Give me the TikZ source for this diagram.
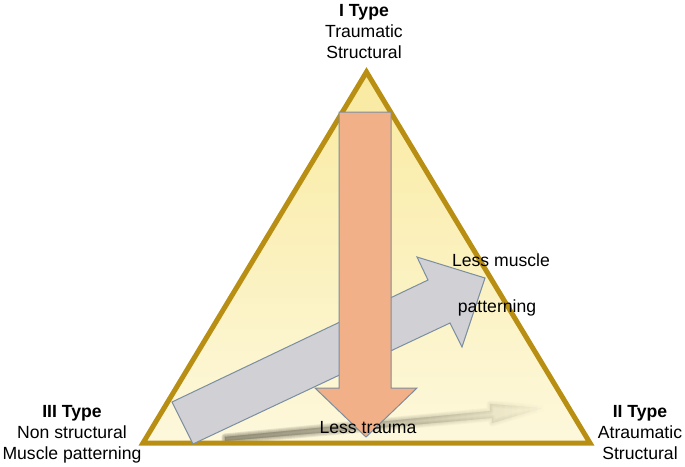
\documentclass[tikz,border=0pt]{standalone}
\usepackage{fontspec}
\setmainfont{Liberation Sans}
\usetikzlibrary{fadings}
\definecolor{goldline}{RGB}{184,143,18}
\definecolor{yellowtop}{RGB}{249,234,160}
\definecolor{yellowbot}{RGB}{253,248,220}
\definecolor{traumafill}{RGB}{242,176,136}
\definecolor{musclefill}{RGB}{208,208,213}
\definecolor{arrowline}{RGB}{122,142,160}
\definecolor{shadowgray}{RGB}{120,115,95}
\tikzset{
  label/.style={font=\fontsize{17.6}{21}\selectfont, inner sep=0pt, anchor=base},
  typelabel/.style={label, font=\fontsize{17.6}{21}\selectfont\bfseries},
  blockarrow/.style={draw=arrowline, line width=1pt, line join=miter}
}
\begin{document}
\begin{tikzpicture}[x=1pt,y=-1pt]
  \useasboundingbox (0,0) rectangle (685,466);

  % triangle
  \shade[top color=yellowtop, bottom color=yellowbot] (366.5,72) -- (590,443) -- (143,443) -- cycle;

  % shadow of the muscle arrow, soft edges
  \foreach \w in {7,5,3,1}
    \filldraw[shadowgray, line width=\w pt, line join=round, opacity=.2, path fading=east]
      (225,437) -- (490,411) -- (490,404) -- (543,408) -- (492,423) -- (492,418) -- (225,441) -- cycle;

  \draw[goldline, line width=5pt, line join=miter] (366.5,72) -- (590,443) -- (143,443) -- cycle;

  % less muscle patterning
  \draw[blockarrow, fill=musclefill]
    (172,402) -- (428,280) -- (417,257) -- (485,278) -- (462,347) -- (450,323) -- (193,444) -- cycle;

  % less trauma
  \draw[blockarrow, fill=traumafill]
    (339,112) -- (391,112) -- (391,388) -- (417,388) -- (366,437) -- (315,388) -- (339,388) -- cycle;

  % arrow texts
  \node[label] (muscle1) at (501,266) {Less muscle};
  \node[label] (muscle2) at (497,312) {patterning};
  \node[label] (trauma) at (368,433) {Less trauma};

  % corners
  \node[typelabel] (typeI) at (364,16) {I Type};
  \node[label] (typeIa) at (364,37) {Traumatic};
  \node[label] (typeIb) at (364,58) {Structural};

  \node[typelabel] (typeIII) at (72,417) {III Type};
  \node[label] (typeIIIa) at (72,438) {Non structural};
  \node[label] (typeIIIb) at (72,459) {Muscle patterning};

  \node[typelabel] (typeII) at (640,417) {II Type};
  \node[label] (typeIIa) at (640,438) {Atraumatic};
  \node[label] (typeIIb) at (640,459) {Structural};
\end{tikzpicture}
\end{document}
